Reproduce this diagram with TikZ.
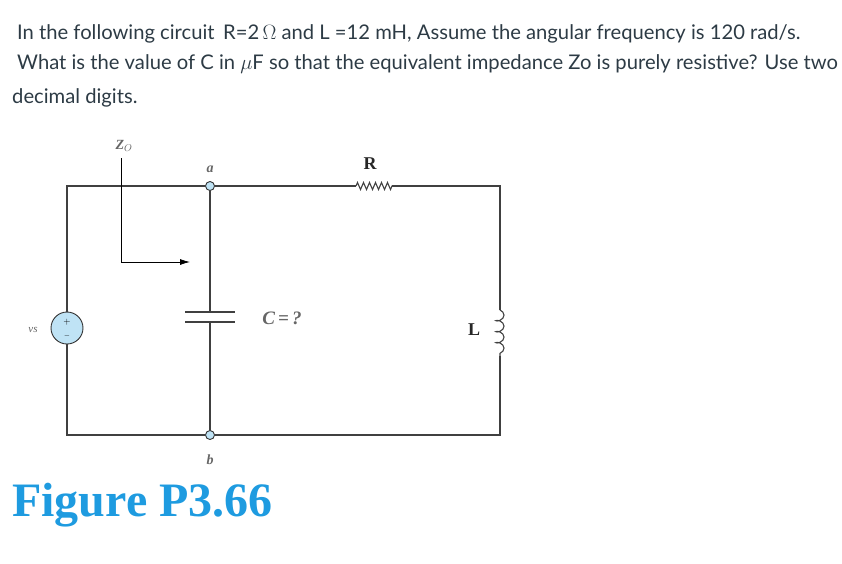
\documentclass[tikz,border=0pt]{standalone}
\usepackage{fontspec}
\setmainfont{Lato}
\newfontfamily\serifit{Liberation Serif}
\usetikzlibrary{decorations.pathmorphing,arrows.meta}
\definecolor{txt}{HTML}{2D3B45}
\definecolor{figblue}{HTML}{1E9BE0}
\definecolor{termfill}{HTML}{BFE3F5}
\begin{document}
\begin{tikzpicture}[x=1pt,y=-1pt,
  wire/.style={line width=1.1pt,draw=black!75},
  term/.style={circle,draw=black!80,fill=termfill,line width=0.9pt,inner sep=0pt,minimum size=9pt},
  lab/.style={text=black!60}]
\useasboundingbox (0,0) rectangle (842,563);
\tikzset{para/.style={anchor=west,text=txt,font=\fontsize{20.2}{22}\selectfont,inner sep=0}}
\node[para] (p1) at (17,34) {In the following circuit\, R=2\,$\Omega$ and L =12 mH, Assume the angular frequency is 120 rad/s.};
\node[para] (p2) at (17,64) {What is the value of C in $\mu$F so that the equivalent impedance Zo is purely resistive? Use two};
\node[para] (p3) at (12,98) {decimal digits.};
% nodes
\coordinate (tl) at (67,186); \coordinate (bl) at (67,435);
\coordinate (tr) at (500,186); \coordinate (br) at (500,435);
\node[term] (a) at (210,186) {};
\node[term] (b) at (210,435) {};
\node[circle,draw=black!80,fill=termfill,line width=0.9pt,minimum size=32pt,inner sep=0pt] (vs) at (67,328) {};
\node[font=\small] at (67,322) {$+$};
\node[font=\scriptsize] at (67,336) {$-$};
\coordinate (c1) at (210,312); \coordinate (c2) at (210,322);
\coordinate (r1) at (356,186); \coordinate (r2) at (392,186);
\coordinate (l1a) at (500,310); \coordinate (l1b) at (500,356);
% wires
\draw[wire] (vs.north) -- (tl) -- (a) -- (r1);
\draw[wire] (r1) decorate[decoration={zigzag,segment length=6pt,amplitude=3.5pt}]{-- (r2)};
\draw[wire] (r2) -- (tr) -- (l1a);
\draw[wire] (l1a) decorate[decoration={coil,aspect=0.6,segment length=11pt,amplitude=4pt}]{-- (l1b)};
\draw[wire] (l1b) -- (br) -- (b) -- (bl) -- (vs.south);
\draw[wire] (a) -- (c1); \draw[wire] (b) -- (c2);
\draw[line width=1.6pt,black!75] (185,312) -- (235,312) (185,322) -- (235,322);
% Zo arrow
\coordinate (z1) at (121,158); \coordinate (z2) at (121,262); \coordinate (z3) at (190,262);
\draw[line width=0.8pt,-{Latex[length=10pt,width=6pt]}] (z1) -- (z2) -- (z3);
% labels
\node[lab,font=\serifit\itshape\bfseries\fontsize{14}{16}\selectfont] at (124,146) {Z$_O$};
\node[lab,font=\serifit\itshape\bfseries\fontsize{14}{16}\selectfont] at (210,169) {a};
\node[lab,font=\serifit\itshape\bfseries\fontsize{14}{16}\selectfont] at (210,460) {b};
\node[lab,font=\serifit\itshape\fontsize{11}{13}\selectfont] at (33,330) {vs};
\node[lab,font=\serifit\itshape\bfseries\fontsize{19}{20}\selectfont] at (282,318) {C\,=\,?};
\node[font=\serifit\bfseries\fontsize{18}{20}\selectfont,text=black!85] at (370,164) {R};
\node[font=\serifit\bfseries\fontsize{18}{20}\selectfont,text=black!85] at (474,330) {L};
\node[anchor=west,inner sep=0,font=\serifit\bfseries\fontsize{48}{52}\selectfont,text=figblue] at (12,505) {Figure P3.66};
\end{tikzpicture}
\end{document}
